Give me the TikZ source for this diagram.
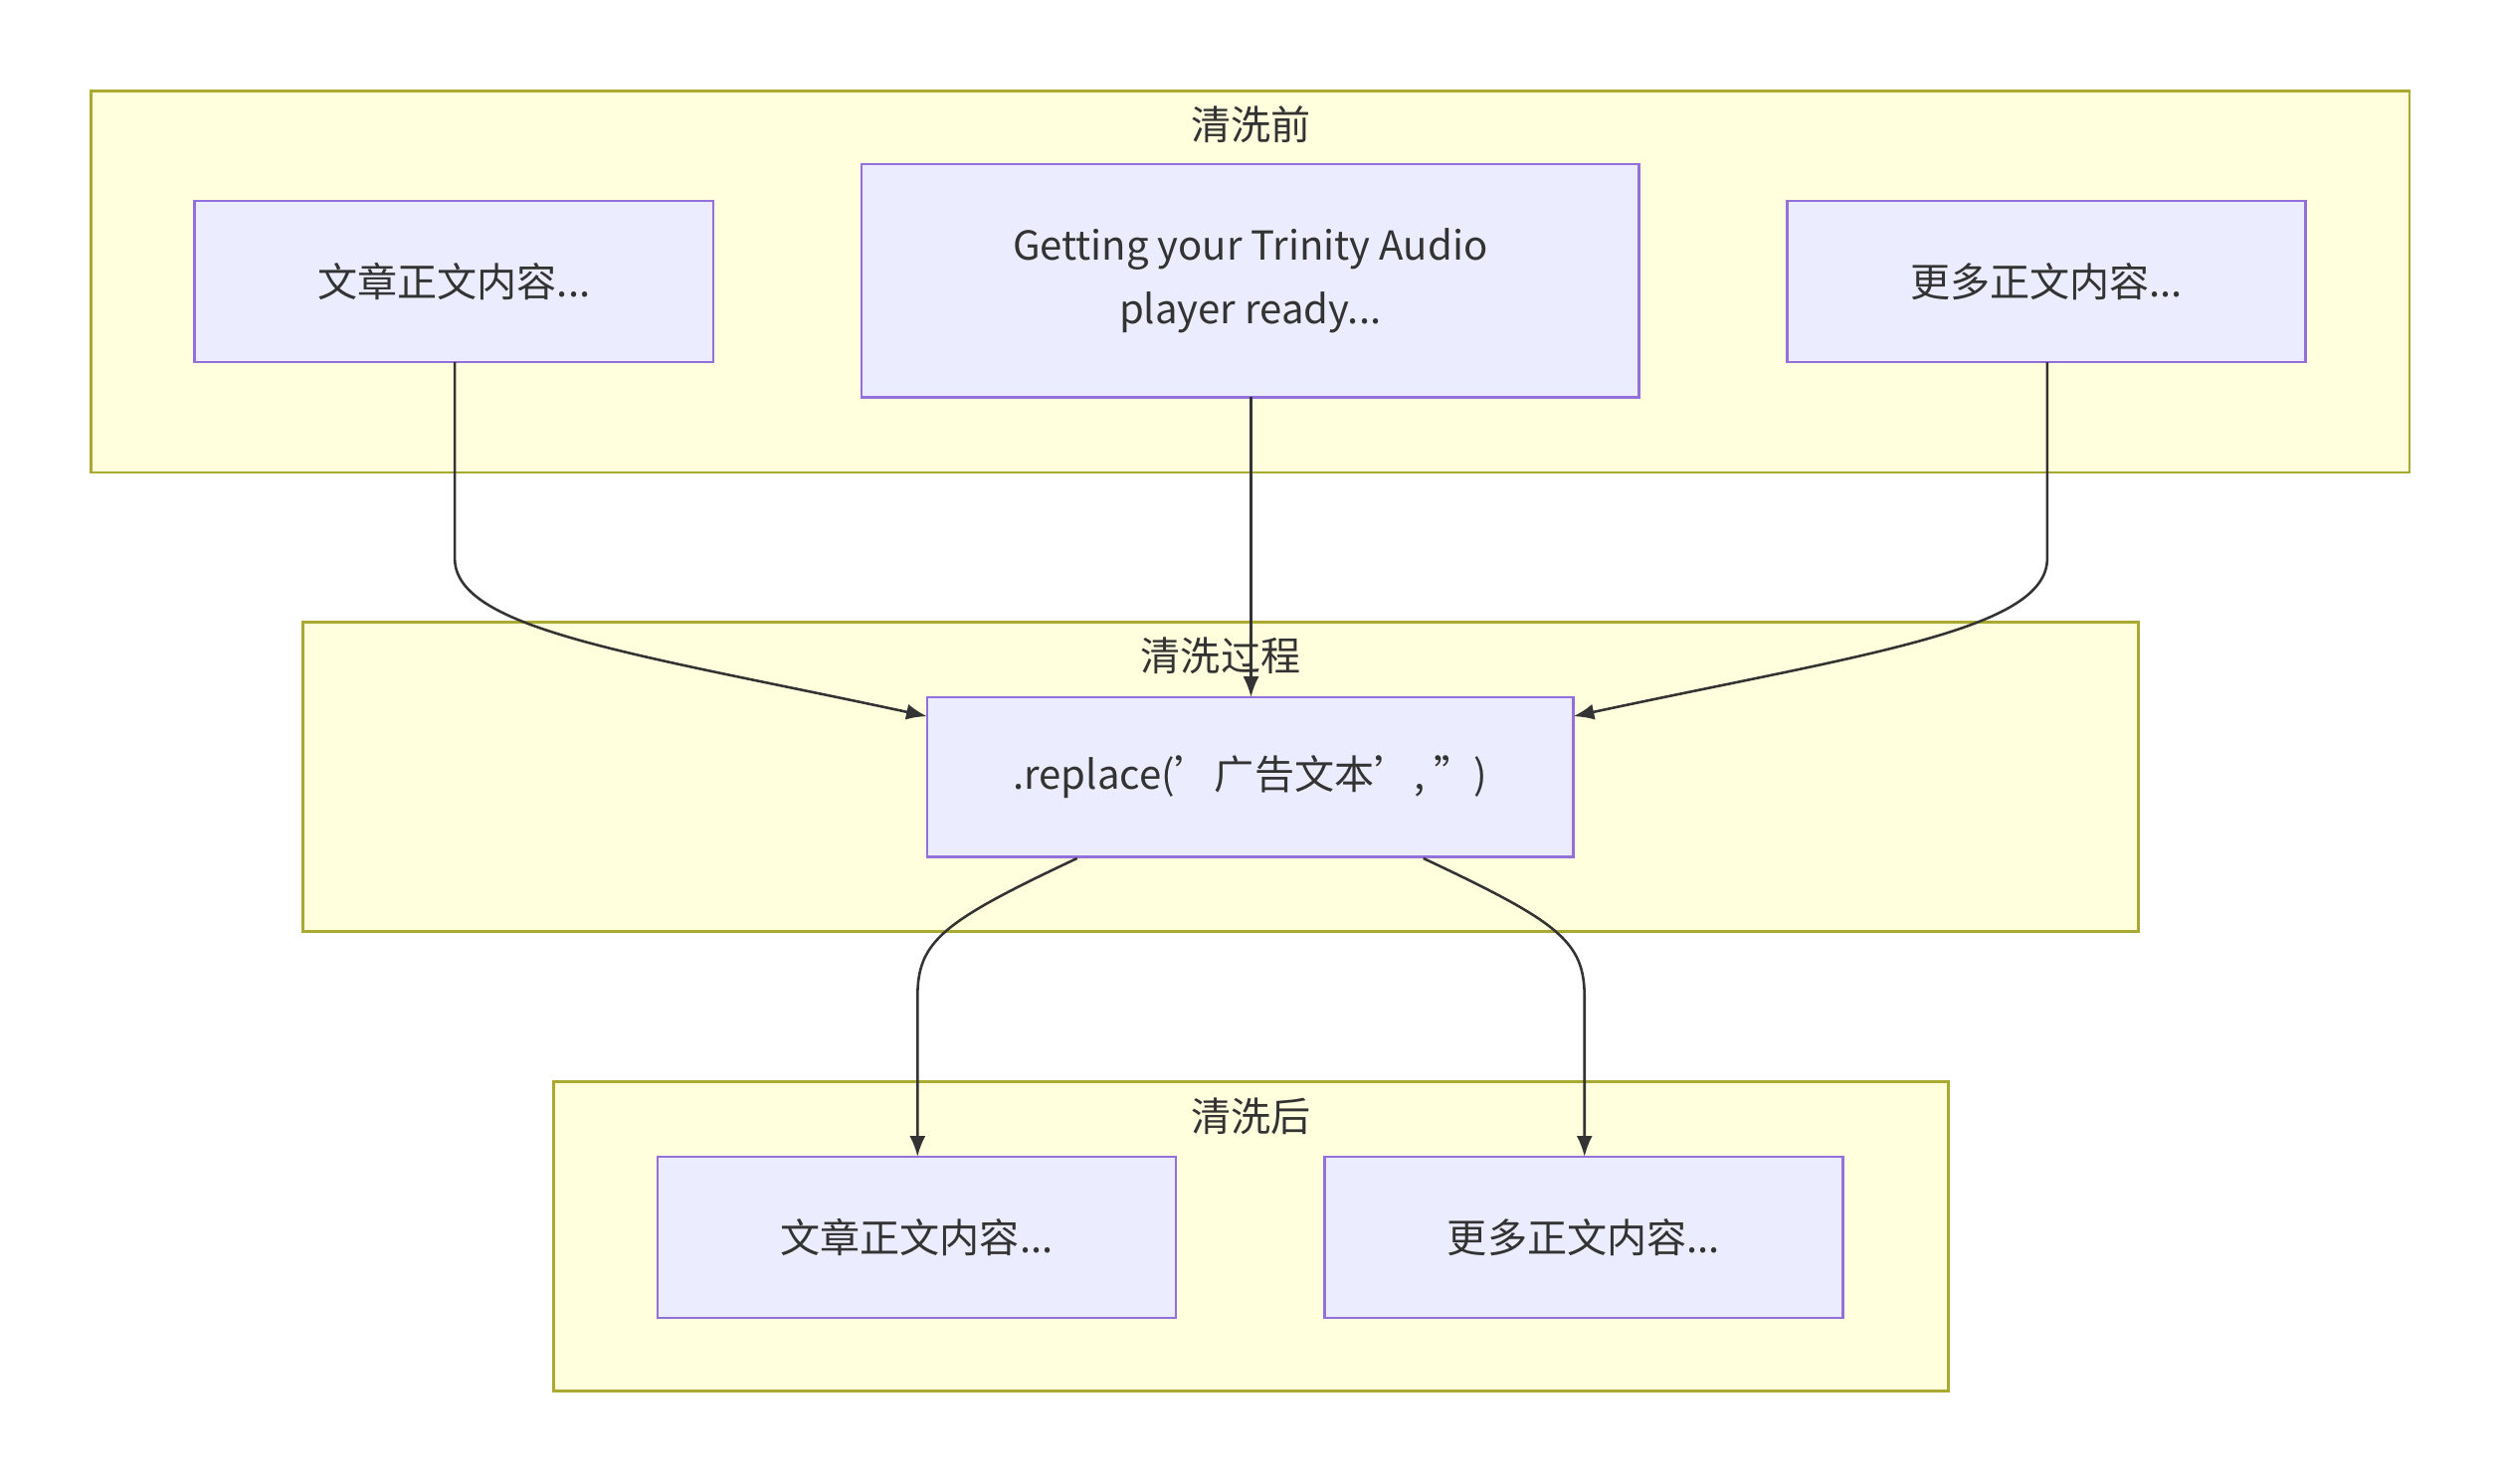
\documentclass[tikz,border=0pt]{standalone}
\usepackage{fontspec}
\setmainfont{Noto Sans CJK SC}
\usetikzlibrary{arrows.meta}
\definecolor{cf}{HTML}{FFFFDE}\definecolor{cs}{HTML}{AAAA33}
\definecolor{nf}{HTML}{ECECFF}\definecolor{ns}{HTML}{9370DB}
\definecolor{ar}{HTML}{333333}
\begin{document}
\begin{tikzpicture}[x=1pt,y=-1pt,
 clus/.style={fill=cf,draw=cs,line width=1.6pt},
 box/.style={fill=nf,draw=ns,line width=1.6pt},
 lbl/.style={font=\fontsize{25}{40}\selectfont,text=ar,align=center},
 arr/.style={draw=ar,line width=1.6pt,-{Latex[length=13pt,width=10pt]}}]
\useasboundingbox (0,0) rectangle (1568,930);
\fill[white] (0,0) rectangle (1568,930);
\draw[clus] (57,57) rectangle (1510,296);
\draw[clus] (190,390) rectangle (1340,584);
\draw[clus] (347,678) rectangle (1221,872);
\node[lbl] (t1) at (784,78) {清洗前};
\node[lbl] (t2) at (765,411) {清洗过程};
\node[lbl] (t3) at (784,700) {清洗后};
\draw[box] (122,126) rectangle (447,227); \node[lbl] (A) at (284.5,176.5) {文章正文内容...};
\draw[box] (540,103) rectangle (1027,249); \node[lbl] (B) at (783.5,176) {Getting your Trinity Audio\\player ready...};
\draw[box] (1120,126) rectangle (1445,227); \node[lbl] (C) at (1282.5,176.5) {更多正文内容...};
\draw[box] (581,437) rectangle (986,537); \node[lbl] (R) at (783.5,487) {.replace('广告文本', '')};
\draw[box] (412,725) rectangle (737,826); \node[lbl] (D) at (574.5,775.5) {文章正文内容...};
\draw[box] (830,725) rectangle (1155,826); \node[lbl] (E) at (992.5,775.5) {更多正文内容...};
\coordinate (a0) at (285,227); \coordinate (a1) at (581,449);
\coordinate (c0) at (1283,227); \coordinate (c1) at (986,449);
\coordinate (b0) at (784,249); \coordinate (b1) at (784,437);
\coordinate (r1) at (675,538); \coordinate (d1) at (575,725);
\coordinate (r2) at (892,538); \coordinate (e1) at (993,725);
\draw[arr] (a0) -- (285,350) .. controls (285,395) and (400,410) .. (a1);
\draw[arr] (c0) -- (1283,350) .. controls (1283,395) and (1168,410) .. (c1);
\draw[arr] (b0) -- (b1);
\draw[arr] (r1) .. controls (590,578) and (575,590) .. (575,625) -- (d1);
\draw[arr] (r2) .. controls (977,578) and (993,590) .. (993,625) -- (e1);
\end{tikzpicture}
\end{document}
